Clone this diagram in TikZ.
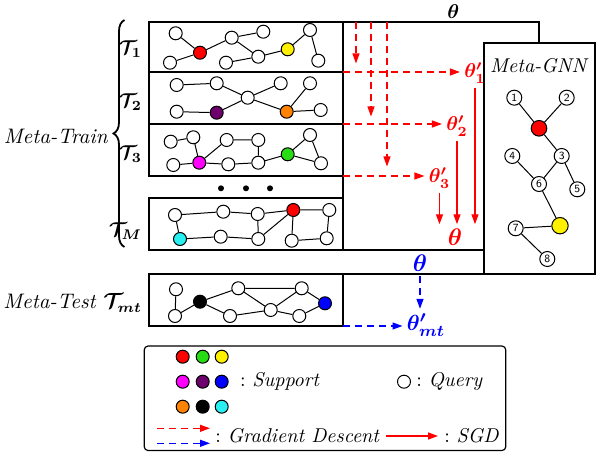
\documentclass[tikz,border=0pt]{standalone}
\usepackage{amsmath}
\usepackage{tikz}
\usetikzlibrary{arrows.meta, positioning, calc, decorations.pathreplacing}

\definecolor{cgreen}{RGB}{40,220,20}
\definecolor{cyellow}{RGB}{255,240,0}
\definecolor{cpurple}{RGB}{110,0,110}
\definecolor{corange}{RGB}{255,130,0}
\definecolor{ccyan}{RGB}{40,240,240}
\definecolor{cmagenta}{RGB}{255,0,255}

\begin{document}
\begin{tikzpicture}[
  x=0.5pt, y=-0.5pt,
  task/.style   = {draw, line width=1pt, minimum width=97pt, minimum height=26pt, inner sep=0pt, outer sep=0pt},
  vtx/.style    = {draw, circle, fill=white, line width=0.5pt, minimum size=6.5pt, inner sep=0pt},
  supp/.style   = {vtx, fill=#1},
  gnum/.style   = {vtx, minimum size=7.5pt, font=\fontsize{5.5}{6}\sffamily},
  link/.style   = {line width=0.5pt},
  bigframe/.style = {line width=1pt},
  gd/.style     = {line width=0.6pt, dash pattern=on 3.5pt off 2.5pt, -{Triangle[length=5pt, width=3.5pt]}},
  sgd/.style    = {red, line width=0.7pt, -{Triangle[length=5pt, width=3.5pt]}},
  theta/.style  = {inner sep=2pt},
  bullet/.style = {circle, fill, minimum size=3pt, inner sep=0pt},
  lgtext/.style = {inner sep=0pt, anchor=west}
]
  \useasboundingbox (0,0) rectangle (596,454);

  % Task boxes
  \node[task, minimum height=25pt] (task1) at (246,47) {};
  \node[task, below=0pt of task1] (task2) {};
  \node[task, below=0pt of task2] (task3) {};
  \node[task, below=11.25pt of task3] (taskM) {};
  \node[task, below=11.75pt of taskM] (test) {};

  % Task labels
  \node[left=0pt of task1, yshift=-1pt] (lab1) {$\boldsymbol{\mathcal{T}_1}$};
  \node[left=0pt of task2, yshift=-2pt] (lab2) {$\boldsymbol{\mathcal{T}_2}$};
  \node[left=0pt of task3, yshift=-2pt] (lab3) {$\boldsymbol{\mathcal{T}_3}$};
  \node[left=0pt of taskM, yshift=-3.5pt] (labM) {$\boldsymbol{\mathcal{T}_M}$};
  \node[left=0pt of test, yshift=-1.5pt, font=\fontsize{10.5}{12}\selectfont] (labtest) {\textit{Meta-Test} $\boldsymbol{\mathcal{T}_{mt}}$};

  % Meta-Train brace
  \coordinate (brbot) at (124.5,247);
  \coordinate (brtop) at (124.5,20);
  \draw[line width=0.9pt, decorate, decoration={brace, amplitude=5.5pt}] (brbot) -- (brtop);
  \node[font=\fontsize{10.5}{12}\selectfont] (train) at (56,136) {\textit{Meta-Train}};

  % Task 1 graph
  \node[vtx] (t1a) at (175.7,33.3) {};
  \node[vtx] (t1b) at (170,62.7) {};
  \node[supp=red] (t1r) at (200,52.7) {};
  \node[vtx] (t1c) at (231.7,37.7) {};
  \node[vtx] (t1d) at (263.3,31.7) {};
  \node[vtx] (t1e) at (258.3,56.7) {};
  \node[vtx] (t1f) at (226,62.7) {};
  \node[supp=cyellow] (t1y) at (287.7,49.3) {};
  \node[vtx] (t1g) at (310,30) {};
  \node[vtx] (t1h) at (318.3,60.7) {};
  \draw[link] (t1a) -- (t1r) (t1b) -- (t1r) (t1r) -- (t1c) (t1c) -- (t1d) (t1c) -- (t1e)
              (t1e) -- (t1f) (t1e) -- (t1y) (t1y) -- (t1g) (t1g) -- (t1h);

  % Task 2 graph
  \node[vtx] (t2a) at (176.7,85) {};
  \node[vtx] (t2b) at (216.7,83.3) {};
  \node[vtx] (t2c) at (247.7,97.7) {};
  \node[vtx] (t2d) at (280.7,83.3) {};
  \node[vtx] (t2e) at (310,83.3) {};
  \node[vtx] (t2f) at (176.7,111.7) {};
  \node[supp=cpurple] (t2p) at (216.7,112.7) {};
  \node[supp=corange] (t2o) at (286.7,111.7) {};
  \node[vtx] (t2g) at (320.7,110) {};
  \draw[link] (t2a) -- (t2b) (t2b) -- (t2c) (t2c) -- (t2d) (t2f) -- (t2p) (t2p) -- (t2c)
              (t2c) -- (t2o) (t2o) -- (t2e) (t2o) -- (t2g);

  % Task 3 graph
  \node[vtx] (t3a) at (170.7,141.7) {};
  \node[vtx] (t3b) at (193.3,137.3) {};
  \node[vtx] (t3c) at (226.7,140) {};
  \node[vtx] (t3d) at (258.3,140) {};
  \node[vtx] (t3e) at (310,135) {};
  \node[vtx] (t3f) at (173.3,165) {};
  \node[supp=cmagenta] (t3m) at (199.3,162.7) {};
  \node[vtx] (t3g) at (228.3,164.3) {};
  \node[vtx] (t3h) at (258.3,162.7) {};
  \node[supp=cgreen] (t3n) at (287.7,154.3) {};
  \node[vtx] (t3i) at (321,163.3) {};
  \draw[link] (t3a) -- (t3b) (t3b) -- (t3m) (t3f) -- (t3m) (t3m) -- (t3c) (t3c) -- (t3d)
              (t3d) -- (t3h) (t3m) -- (t3g) (t3g) -- (t3h) (t3h) -- (t3n) (t3n) -- (t3e)
              (t3n) -- (t3i) (t3e) -- (t3i);

  % dots
  \node[bullet] (dot1) at (221,188.3) {};
  \node[bullet] (dot2) at (246,188.3) {};
  \node[bullet] (dot3) at (270,188.3) {};

  % Task M graph
  \node[vtx] (tma) at (175,215) {};
  \node[vtx] (tmb) at (223.3,211.7) {};
  \node[vtx] (tmc) at (257.7,214) {};
  \node[supp=red] (tmr) at (293.3,210) {};
  \node[vtx] (tmd) at (329.3,210) {};
  \node[supp=ccyan] (tmy) at (180,239) {};
  \node[vtx] (tme) at (220.7,236.7) {};
  \node[vtx] (tmf) at (258.3,239) {};
  \node[vtx] (tmg) at (291.7,240.7) {};
  \node[vtx] (tmh) at (326.7,238.3) {};
  \draw[link] (tma) -- (tmb) (tmb) -- (tmc) (tmc) -- (tmr) (tmr) -- (tmd) (tma) -- (tmy)
              (tmy) -- (tme) (tme) -- (tmf) (tmc) -- (tmf) (tmf) -- (tmr) (tmr) -- (tmg)
              (tmg) -- (tmh) (tmh) -- (tmd);

  % Meta-test graph
  \node[vtx] (tsa) at (176,289.3) {};
  \node[vtx] (tsb) at (175,316) {};
  \node[supp=black] (tsk) at (200,301.7) {};
  \node[vtx] (tsc) at (238.3,288.3) {};
  \node[vtx] (tsd) at (230,316) {};
  \node[vtx] (tse) at (270.7,310) {};
  \node[vtx] (tsf) at (301.7,288.3) {};
  \node[vtx] (tsg) at (299.3,316) {};
  \node[supp=blue] (tsu) at (325,303.3) {};
  \draw[link] (tsa) -- (tsb) (tsb) -- (tsk) (tsk) -- (tsc) (tsk) -- (tsd) (tsc) -- (tsf)
              (tsc) -- (tse) (tsd) -- (tse) (tse) -- (tsf) (tse) -- (tsg) (tsf) -- (tsu)
              (tsg) -- (tsu);

  % Meta-GNN box
  \node[draw, line width=1pt, minimum width=55.5pt, minimum height=115.5pt, inner sep=0pt, outer sep=0pt] (gnn) at (539.5,158.5) {};
  \node (gnnlabel) at (539.5,66) {\textit{Meta-GNN}};

  % Meta-GNN graph
  \node[gnum] (g1) at (514.3,97.7) {1};
  \node[gnum] (g2) at (566.7,97.7) {2};
  \node[supp=red, minimum size=7.8pt] (gr) at (539,128.3) {};
  \node[gnum] (g3) at (561.7,156) {3};
  \node[gnum] (g4) at (512.3,156) {4};
  \node[gnum] (g6) at (539,184) {6};
  \node[gnum] (g5) at (577.3,189.3) {5};
  \node[supp=cyellow, minimum size=8.2pt] (gy) at (560,225.7) {};
  \node[gnum] (g7) at (515.7,228.3) {7};
  \node[gnum] (g8) at (547.3,259) {8};
  \draw[link] (g1) -- (gr) (g2) -- (gr) (gr) -- (g3) (g4) -- (g6) (g3) -- (g6) (g3) -- (g5)
              (g6) -- (gy) (gy) -- (g7) (g7) -- (g8);

  % big theta frame
  \coordinate (fcorner) at ($(task1.north east)+(196,0)$);
  \draw[bigframe] (task1.north east) -- (fcorner) -- (fcorner |- gnn.north);
  \draw[bigframe] (task3.south east) -- (taskM.north east);
  \draw[bigframe] (taskM.south east) -- (taskM.south east -| gnn.west);
  \draw[bigframe] (test.north east) -- (gnn.south west);
  \node[theta] (theta) at (453.3,11.7) {$\boldsymbol{\theta}$};

  % adapted parameters
  \node[theta, red] (th1) at (475,73) {$\boldsymbol{\theta'_1}$};
  \node[theta, red] (th2) at (457,126) {$\boldsymbol{\theta'_2}$};
  \node[theta, red] (th3) at (439.5,178) {$\boldsymbol{\theta'_3}$};
  \node[theta, red, font=\large] (thetar) at (455,237) {$\boldsymbol{\theta}$};

  % gradient descent (meta-train)
  \coordinate (d1) at ($(task1.north east)+(13,0)$);
  \coordinate (d2) at ($(task1.north east)+(28,0)$);
  \coordinate (d3) at ($(task1.north east)+(44,0)$);
  \draw[gd, red] (d1) -- ($(d1 |- task1.south east)+(0,-8.5)$);
  \draw[gd, red] (d2) -- ($(d2 |- task2.south east)+(0,-7.5)$);
  \draw[gd, red] (d3) -- ($(d3 |- task3.south east)+(0,-9.5)$);
  \draw[gd, red] (task1.south east) -- (task1.south east -| th1.west);
  \draw[gd, red] (task2.south east) -- (task2.south east -| th2.west);
  \draw[gd, red] (task3.south east) -- (task3.south east -| th3.west);

  % SGD update
  \draw[sgd] (th1.south) -- (th1.south |- thetar.north);
  \draw[sgd] (th2.south) -- (th2.south |- thetar.north);
  \draw[sgd] (th3.south) -- (th3.south |- thetar.north);

  % meta-test
  \node[theta, blue, font=\large] (thetab) at (420,263) {$\boldsymbol{\theta}$};
  \node[theta, blue, font=\fontsize{11}{13}\selectfont] (thmt) at (426,325) {$\boldsymbol{\theta'_{mt}}$};
  \draw[gd, blue] (thetab.south) -- (thetab.south |- thmt.north);
  \draw[gd, blue] (test.south east) -- (test.south east -| thmt.west);

  % Legend
  \node[draw, rounded corners=2pt, line width=0.6pt, minimum width=180.8pt, minimum height=52.3pt] (legend) at (325,398.3) {};
  \node[supp=red] (lg1) at (182.7,356.7) {};
  \node[supp=cgreen] (lg2) at (202.7,356.7) {};
  \node[supp=cyellow] (lg3) at (221.7,356.7) {};
  \node[supp=cmagenta] (lg4) at (182.7,381.7) {};
  \node[supp=cpurple] (lg5) at (202.7,381.7) {};
  \node[supp=blue] (lg6) at (221.7,381.7) {};
  \node[supp=corange] (lg7) at (182.7,406.7) {};
  \node[supp=black] (lg8) at (202.7,406.7) {};
  \node[supp=ccyan] (lg9) at (221.7,406.7) {};
  \node[lgtext, right=5.5pt of lg6] (support) {$:$ \textit{Support}};
  \node[vtx] (lgq) at (404,381.7) {};
  \node[lgtext, right=2.5pt of lgq] (query) {$:$ \textit{Query}};

  \coordinate (lgr1) at (157,428.3);
  \coordinate (lgr2) at (210,428.3);
  \coordinate (lgb1) at (157,443.3);
  \coordinate (lgb2) at (210,443.3);
  \draw[gd, red] (lgr1) -- (lgr2);
  \draw[gd, blue] (lgb1) -- (lgb2);
  \node[lgtext] (gdtext) at (215,436) {$:$ \textit{Gradient Descent}};
  \coordinate (lgs1) at (386,436);
  \coordinate (lgs2) at (438,436);
  \draw[sgd] (lgs1) -- (lgs2);
  \node[lgtext] (sgdtext) at (444,436) {$:$ \textit{SGD}};

\end{tikzpicture}
\end{document}
